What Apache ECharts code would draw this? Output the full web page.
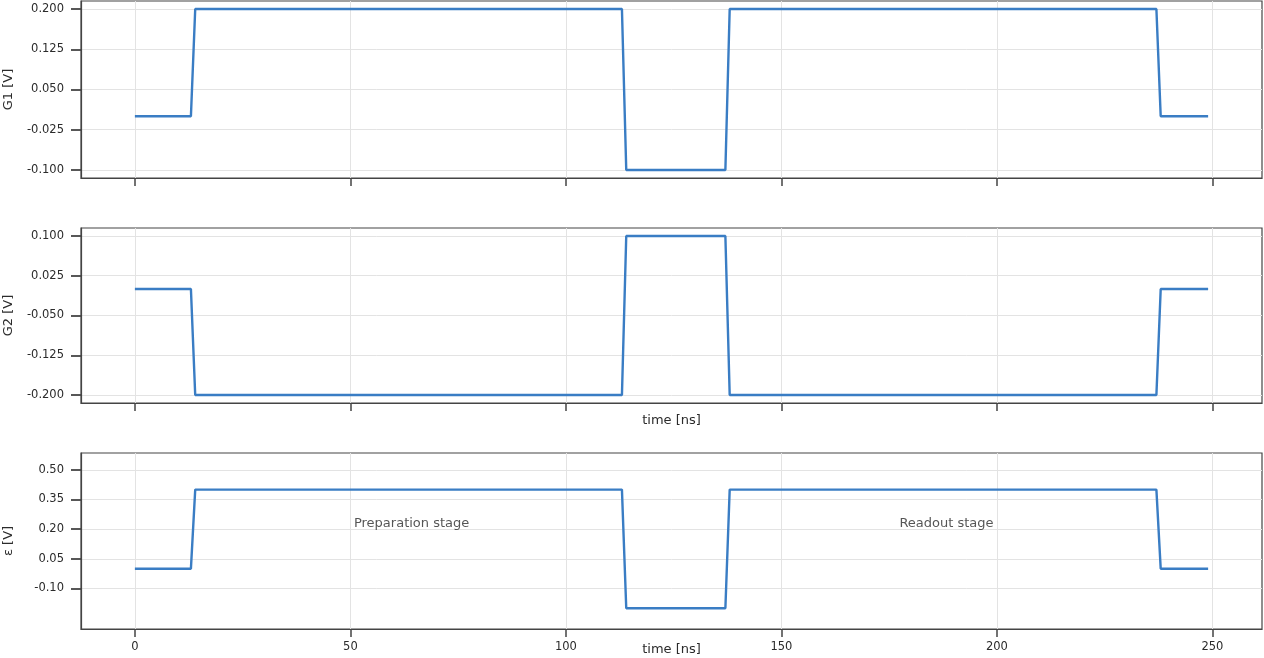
<!DOCTYPE html>
<html>
<head>
<meta charset="utf-8">
<script src="https://cdn.jsdelivr.net/npm/echarts@6/dist/echarts.min.js"></script>
<style>
html,body{margin:0;padding:0;background:#fff;}
#chart{width:1264px;height:658px;}
</style>
</head>
<body>
<div id="chart"></div>
<script>
// Breakpoints of the piecewise-constant pulses (time in ns)
const time = [0, 13, 14, 113, 114, 137, 138, 237, 238, 249];
const g1   = [0, 0, 0.2, 0.2, -0.1, -0.1, 0.2, 0.2, 0, 0];
const g2   = [0, 0, -0.2, -0.2, 0.1, 0.1, -0.2, -0.2, 0, 0];
const eps  = [0, 0, 0.4, 0.4, -0.2, -0.2, 0.4, 0.4, 0, 0];

const xTicks = [0, 50, 100, 150, 200, 250];
const g1Ticks = [-0.1, -0.025, 0.05, 0.125, 0.2];
const g2Ticks = [-0.2, -0.125, -0.05, 0.025, 0.1];
const epsTicks = [-0.1, 0.05, 0.2, 0.35, 0.5];

const annotations = [
  { name: 'Preparation stage', t: 64.2, v: 0.226 },
  { name: 'Readout stage', t: 188.3, v: 0.226 }
];

const FONT = 'DejaVu Sans';
const TXT = '#2b2b2b';
const FRAME = '#444';
const GRIDC = '#e3e3e3';
const LINEC = '#3a7dc4';

function pairs(ys) { return time.map((t, i) => [t, ys[i]]); }

function xAxis(idx, showLabels, name, gap) {
  return {
    type: 'value', gridIndex: idx, min: -12.5, max: 261.5,
    name: name, nameLocation: 'middle', nameGap: gap, nameMoveOverlap: false,
    nameTextStyle: { fontFamily: FONT, fontSize: 13, color: TXT },
    axisLine: { show: true, onZero: false, lineStyle: { color: FRAME, width: 1.2 } },
    axisTick: { show: true, length: 8, customValues: xTicks, lineStyle: { color: FRAME, width: 1.5 } },
    axisLabel: { show: showLabels, customValues: xTicks, margin: 12, fontFamily: FONT, fontSize: 11.5, color: TXT },
    splitLine: { show: true, lineStyle: { color: GRIDC, width: 1 } }
  };
}
function yAxis(idx, min, max, ticks, name, dec) {
  return {
    type: 'value', gridIndex: idx, min: min, max: max,
    name: name, nameLocation: 'middle', nameGap: 66,
    nameTextStyle: { fontFamily: FONT, fontSize: 13, color: TXT },
    axisLine: { show: true, onZero: false, lineStyle: { color: FRAME, width: 1.2 } },
    axisTick: { show: true, length: 10, customValues: ticks, lineStyle: { color: FRAME, width: 1.8 } },
    axisLabel: { customValues: ticks, margin: 17, fontFamily: FONT, fontSize: 11.5, color: TXT,
      formatter: v => v.toFixed(dec) },
    splitLine: { show: true, lineStyle: { color: GRIDC, width: 1 } }
  };
}
function lineSeries(idx, ys) {
  return {
    type: 'line', xAxisIndex: idx, yAxisIndex: idx, data: pairs(ys),
    showSymbol: false, symbol: 'none', animation: false,
    lineStyle: { color: LINEC, width: 2.4 }
  };
}
function grid(top, height) {
  return { left: 81, right: 2, top: top, height: height, show: true,
    borderColor: FRAME, borderWidth: 1.2, containLabel: false, outerBoundsMode: 'none' };
}

const chart = echarts.init(document.getElementById('chart'));
chart.setOption({
  animation: false,
  backgroundColor: '#fff',
  grid: [grid(1, 177), grid(228, 175), grid(453, 176)],
  xAxis: [
    xAxis(0, false, '', 10),
    xAxis(1, false, 'time [ns]', 11),
    xAxis(2, true, 'time [ns]', 14)
  ],
  yAxis: [
    yAxis(0, -0.115, 0.215, g1Ticks, 'G1 [V]', 3),
    yAxis(1, -0.215, 0.115, g2Ticks, 'G2 [V]', 3),
    yAxis(2, -0.305, 0.585, epsTicks, 'ε [V]', 2)
  ],
  series: [
    lineSeries(0, g1),
    lineSeries(1, g2),
    lineSeries(2, eps),
    {
      type: 'scatter', xAxisIndex: 2, yAxisIndex: 2, symbolSize: 0, silent: true,
      data: annotations.map(a => ({ name: a.name, value: [a.t, a.v] })),
      label: { show: true, position: 'inside', formatter: p => p.name,
        fontFamily: FONT, fontSize: 13, color: TXT }
    }
  ]
});
</script>
</body>
</html>
